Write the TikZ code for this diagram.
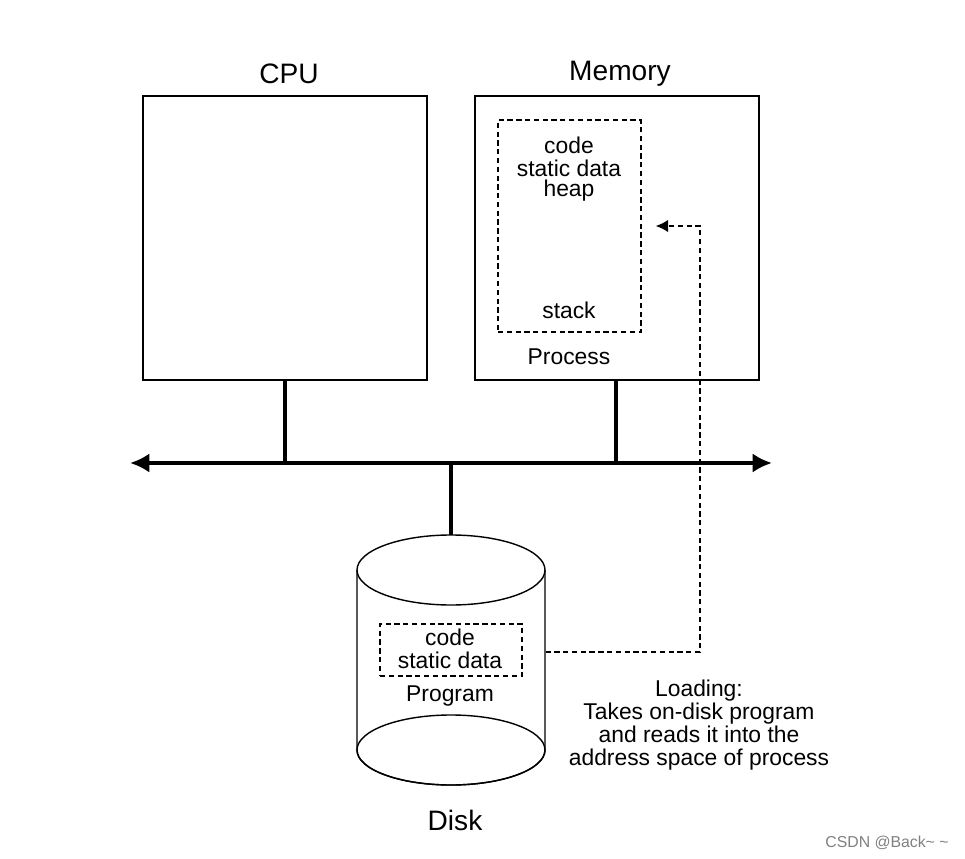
\documentclass[tikz,border=0pt]{standalone}
\usepackage{fontspec}
\setmainfont{Liberation Sans}
\usetikzlibrary{arrows.meta}

\begin{document}
\begin{tikzpicture}[
    x=0.02cm, y=-0.02cm,
    box/.style={rectangle, draw, thick, minimum width=5.68cm, minimum height=5.68cm},
    dotbox/.style={rectangle, draw, densely dashed, thick},
    txt/.style={font=\fontsize{13}{13}\selectfont, align=center, inner sep=0pt},
    title/.style={font=\fontsize{16}{18}\selectfont, inner sep=0pt},
    bus/.style={line width=2.4pt},
    arrow/.style={-{Latex[length=7pt,width=7pt]}, densely dashed, thick}
]
\useasboundingbox (0,0) rectangle (965,859);

% CPU and memory
\node[box] (cpu) at (285,238) {};
\node[title] (cpul) at (289,74) {CPU};
\node[box] (mem) at (617,238) {};
\node[title] (meml) at (620,74) {Memory};

% address space of process
\node[dotbox, minimum width=2.86cm, minimum height=4.24cm] (proc) at (569.5,226) {};
\node[txt] (code1) at (569,145) {code};
\node[txt] (sdata1) at (569,168) {static data};
\node[txt] (heap) at (569,191) {heap};
\node[txt] (stack) at (569,310) {stack};
\node[txt] (procl) at (569,357) {Process};

% bus
\coordinate (busl) at (130,463);
\coordinate (busr) at (772,463);
\draw[bus, {Latex[length=11pt,width=11pt]}-{Latex[length=11pt,width=11pt]}] (busl) -- (busr);
\coordinate (cpub) at (285,463);
\coordinate (memb) at (616,463);
\coordinate (diskb) at (451,463);
\draw[bus] (cpu.south) -- (cpub);
\draw[bus] (memb) -- (memb |- mem.south);

% disk
\coordinate (disktop) at (451,535);
\draw[bus] (diskb) -- (disktop);
\draw[thick, fill=white] (357,570) -- (357,750)
    arc[start angle=180, end angle=0, x radius=94, y radius=35] -- (545,570);
\draw[thick] (451,570) ellipse[x radius=94, y radius=35];
\draw[thick] (451,750) ellipse[x radius=94, y radius=35];
\node[title] (diskl) at (455,820) {Disk};

% program on disk
\node[dotbox, minimum width=2.84cm, minimum height=1.04cm] (prog) at (451,650) {};
\node[txt] (code2) at (450,637) {code};
\node[txt] (sdata2) at (450,660) {static data};
\node[txt] (progl) at (450,696) {Program};

% loading
\coordinate (c1) at (700,652);
\coordinate (c2) at (700,226);
\draw[arrow] ([xshift=13]prog.east |- c1) -- (c1) -- (c2) -- ([xshift=8]proc.east |- c2);
\node[txt, align=center] (loadl) at (699,725) {Loading:\\Takes on-disk program\\and reads it into the\\address space of process};

\node[font=\fontsize{9}{10}\selectfont, text=gray, inner sep=0pt] (wm) at (887,843) {CSDN @Back\textasciitilde\ \textasciitilde};
\end{tikzpicture}
\end{document}
